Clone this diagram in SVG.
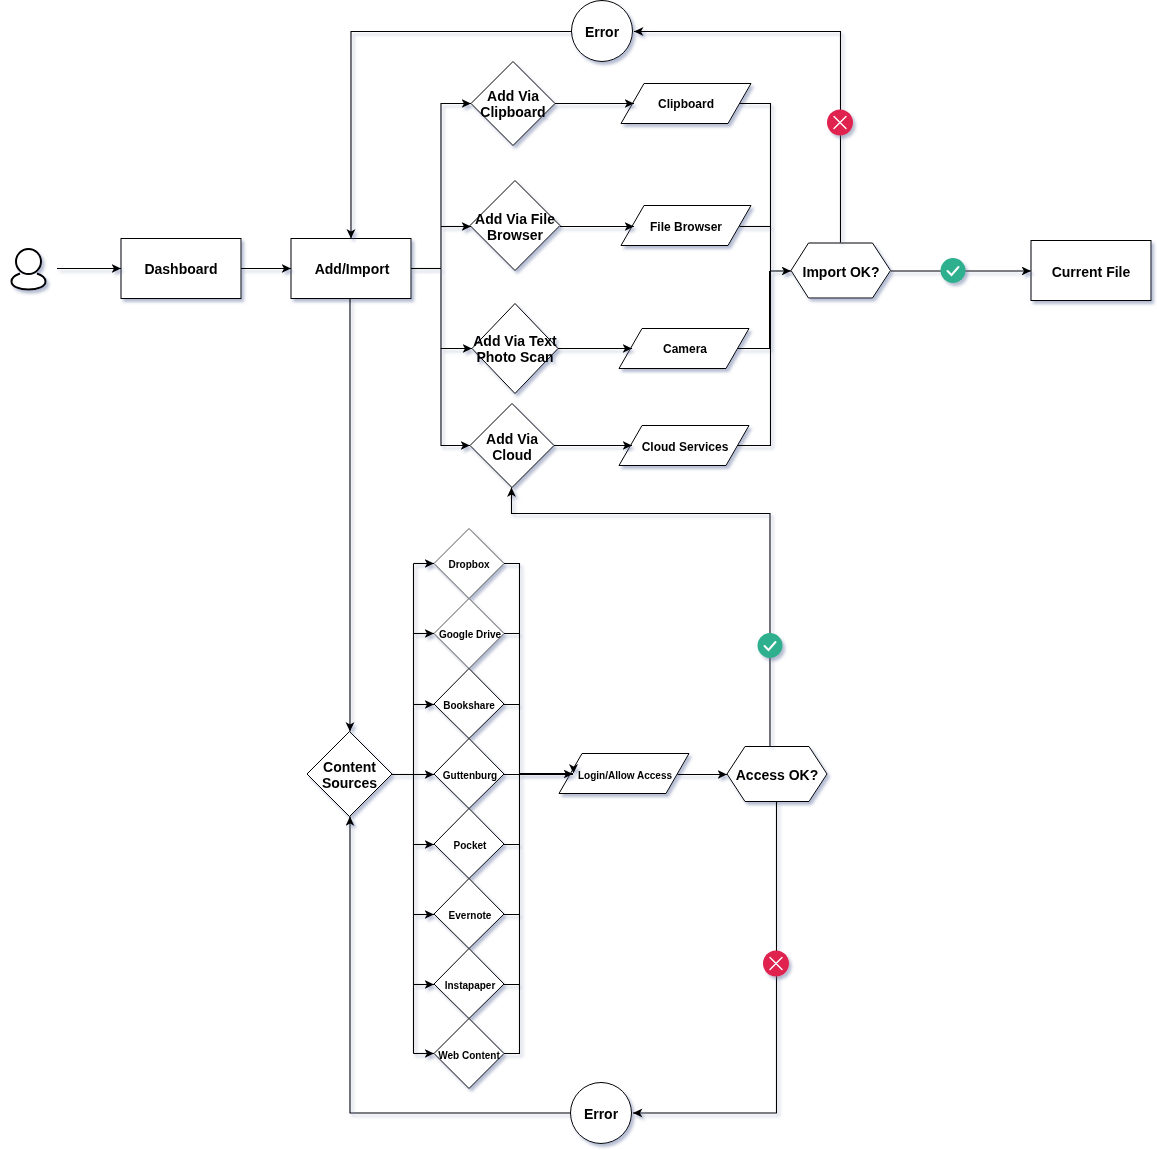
<svg xmlns="http://www.w3.org/2000/svg" width="1157" height="1150" viewBox="0 0 1157 1150">
<style>
text{font-family:"Liberation Sans",Arial,sans-serif;font-weight:bold;fill:#000;text-anchor:middle;dominant-baseline:central}
.n{fill:#fff;stroke:#000;stroke-width:1}
.g{fill:#fff;stroke:#555;stroke-width:1}
.t14{font-size:14px}.t12{font-size:12px}.t10{font-size:10px}
.c{fill:none;stroke:#000;stroke-width:1.1}
.b{fill:none;stroke:#000;stroke-width:2}
.m{stroke:#fff;stroke-width:2;fill:none;stroke-linecap:round}
.ms{stroke:#fff;stroke-width:1.4;fill:none;stroke-linecap:round}
</style>
<defs>
<filter id="s" x="-20%" y="-20%" width="150%" height="150%">
<feDropShadow dx="2.5" dy="3" stdDeviation="1.5" flood-color="#5a6a9a" flood-opacity="0.45"/>
</filter>
<marker id="a" markerUnits="userSpaceOnUse" markerWidth="11" markerHeight="10" refX="9.500" refY="4.500" orient="auto">
<path d="M0,0 L9.500,4.500 L0,9 L2.500,4.500 Z" fill="#000"/>
</marker>
</defs>
<g transform="translate(0,-0.5)">
<g id="user" filter="url(#s)" fill="#fff" stroke="#000" stroke-width="2">
<path d="M20,274 C14,276 11.500,279 11.500,282 C11.500,287 19,290 28.500,290 C38,290 45.500,287 45.500,282 C45.500,279 43,276 37,274"/>
<circle cx="28.500" cy="262" r="12.500"/>
</g>
<g id="dashboard" filter="url(#s)"><rect class="n" x="121" y="239" width="120" height="60"/><text class="t14" x="181" y="269.500">Dashboard</text></g>
<g id="add-import" filter="url(#s)"><rect class="n" x="291" y="239" width="120" height="60"/><text class="t14" x="352" y="269.500">Add/Import</text></g>
<g id="error-top" filter="url(#s)"><circle class="n" cx="602" cy="31.500" r="30.500"/><text class="t14" x="602" y="32.500">Error</text></g>
<g id="add-clipboard" filter="url(#s)"><path class="n" d="M513,62 L555,104 L513,146 L471,104 Z"/><text class="t14" x="513" y="96.500">Add Via</text><text class="t14" x="513" y="112.500">Clipboard</text></g>
<g id="add-file" filter="url(#s)"><path class="n" d="M515,181 L560,226 L515,271 L470,226 Z"/><text class="t14" x="515" y="219.500">Add Via File</text><text class="t14" x="515" y="235.500">Browser</text></g>
<g id="add-text" filter="url(#s)"><path class="n" d="M515,304 L558,349 L515,394 L472,349 Z"/><text class="t14" x="515" y="341.500">Add Via Text</text><text class="t14" x="515" y="357.500">Photo Scan</text></g>
<g id="add-cloud" filter="url(#s)"><path class="n" d="M512,404 L554,446 L512,488 L470,446 Z"/><text class="t14" x="512" y="439.500">Add Via</text><text class="t14" x="512" y="455.500">Cloud</text></g>
<g id="clipboard" filter="url(#s)"><path class="n" d="M644,84 H751 L728,124 H621 Z"/><text class="t12" x="686" y="104.500">Clipboard</text></g>
<g id="file-browser" filter="url(#s)"><path class="n" d="M644,206 H751 L728,246 H621 Z"/><text class="t12" x="686" y="227.500">File Browser</text></g>
<g id="camera" filter="url(#s)"><path class="n" d="M642,329 H749 L726,369 H619 Z"/><text class="t12" x="685" y="349.500">Camera</text></g>
<g id="cloud-services" filter="url(#s)"><path class="n" d="M642,426 H749 L726,466 H619 Z"/><text class="t12" x="685" y="447.500">Cloud Services</text></g>
<g id="import-ok" filter="url(#s)"><path class="n" d="M808.500,243.500 H872.500 L890.500,271 L872.500,298.500 H808.500 L791,271 Z"/><text class="t14" x="841" y="272.500">Import OK?</text></g>
<g id="current-file" filter="url(#s)"><rect class="n" x="1031" y="241" width="120" height="60"/><text class="t14" x="1091" y="272.500">Current File</text></g>
<g id="content-sources" filter="url(#s)"><path class="n" d="M349.500,732 L392,774.500 L349.500,817 L307,774.500 Z"/><text class="t14" x="349.500" y="767.500">Content</text><text class="t14" x="349.500" y="783.500">Sources</text></g>
<g id="dropbox" filter="url(#s)"><path class="g" d="M469,529 L504,564 L469,599 L434,564 Z"/><text class="t10" x="469" y="564.500">Dropbox</text></g>
<g id="google-drive" filter="url(#s)"><path class="g" d="M469,599 L504,634 L469,669 L434,634 Z"/><text class="t10" x="470" y="634.500">Google Drive</text></g>
<g id="bookshare" filter="url(#s)"><path class="n" d="M469,669 L504,704.500 L469,739 L434,704.500 Z"/><text class="t10" x="469" y="705.500">Bookshare</text></g>
<g id="guttenburg" filter="url(#s)"><path class="n" d="M469,739 L504,774.500 L469,809 L434,774.500 Z"/><text class="t10" x="470" y="775.500">Guttenburg</text></g>
<g id="pocket" filter="url(#s)"><path class="n" d="M469,809 L504,844.500 L469,879 L434,844.500 Z"/><text class="t10" x="470" y="845.500">Pocket</text></g>
<g id="evernote" filter="url(#s)"><path class="n" d="M469,879 L504,914.500 L469,949 L434,914.500 Z"/><text class="t10" x="470" y="915.500">Evernote</text></g>
<g id="instapaper" filter="url(#s)"><path class="n" d="M469,949 L504,984.500 L469,1019 L434,984.500 Z"/><text class="t10" x="470" y="985.500">Instapaper</text></g>
<g id="web-content" filter="url(#s)"><path class="n" d="M469,1019 L504,1054 L469,1089 L434,1054 Z"/><text class="t10" x="469" y="1055.500">Web Content</text></g>
<g id="login" filter="url(#s)"><path class="n" d="M582,754 H689 L666,794 H559 Z"/><text class="t10" x="625" y="775.500">Login/Allow Access</text></g>
<g id="access-ok" filter="url(#s)"><path class="n" d="M745,747 H809 L827,774.500 L809,802 H745 L727,774.500 Z"/><text class="t14" x="777" y="775.500">Access OK?</text></g>
<g id="error-bottom" filter="url(#s)"><circle class="n" cx="601" cy="1113.500" r="30.500"/><text class="t14" x="601" y="1114.500">Error</text></g>
<g id="connectors" filter="url(#s)">
<path class="c" marker-end="url(#a)" d="M57,269 H121"/>
<path class="c" marker-end="url(#a)" d="M241,269 H291"/>
<path class="c" d="M411,269 H441"/>
<path class="c" marker-end="url(#a)" d="M441,269 V104 H471"/>
<path class="c" marker-end="url(#a)" d="M441,227 H471"/>
<path class="c" marker-end="url(#a)" d="M441,269 V349 H472"/>
<path class="c" marker-end="url(#a)" d="M441,349 V446 H470"/>
<path class="c" marker-end="url(#a)" d="M555,104 H634"/>
<path class="c" marker-end="url(#a)" d="M560,227 H634"/>
<path class="c" marker-end="url(#a)" d="M558,349 H632"/>
<path class="c" marker-end="url(#a)" d="M554,446 H632"/>
<path class="c" d="M739.500,104 H770.500 V446 H737.500"/>
<path class="c" d="M739.500,227 H770.500"/>
<path class="c" d="M737.500,349 H770"/>
<path class="b" d="M770,349 V271.500"/>
<path class="c" marker-end="url(#a)" d="M770,271.500 H791"/>
<path class="c" marker-end="url(#a)" d="M840.500,243 V32 H634"/>
<path class="c" marker-end="url(#a)" d="M571,32 H351 V239"/>
<path class="c" marker-end="url(#a)" d="M891,271.500 H1031"/>
<path class="c" marker-end="url(#a)" d="M350,299 V732"/>
<path class="c" d="M392,775 H413.500"/>
<path class="c" marker-end="url(#a)" d="M413.500,775 H434"/>
<path class="c" d="M413.500,564 V1054"/>
<path class="c" marker-end="url(#a)" d="M413.500,564 H434"/>
<path class="c" marker-end="url(#a)" d="M413.500,634 H434"/>
<path class="c" marker-end="url(#a)" d="M413.500,705 H434"/>
<path class="c" marker-end="url(#a)" d="M413.500,845 H434"/>
<path class="c" marker-end="url(#a)" d="M413.500,915 H434"/>
<path class="c" marker-end="url(#a)" d="M413.500,985 H434"/>
<path class="c" marker-end="url(#a)" d="M413.500,1054 H434"/>
<path class="c" d="M504,564 H519.500 V1054 H504"/>
<path class="c" d="M504,634 H519.500 M504,705 H519.500 M504,775 H519.500 M504,845 H519.500 M504,915 H519.500 M504,985 H519.500"/>
<path class="b" marker-end="url(#a)" d="M519.500,774.500 H573"/>
<path marker-end="url(#a)" fill="none" d="M573.500,764 V774"/>
<path class="c" marker-end="url(#a)" d="M677.500,775 H727"/>
<path class="c" marker-end="url(#a)" d="M770,747 V514 H511.500 V488"/>
<path class="c" marker-end="url(#a)" d="M776.500,802 V1113.500 H633"/>
<path class="c" marker-end="url(#a)" d="M570,1113.500 H350 V817"/>
</g>
<g id="fail-import" filter="url(#s)"><circle cx="840" cy="123" r="13" fill="#e0204f"/><path class="ms" d="M834,117 L846,129 M846,117 L834,129"/></g>
<g id="ok-import" filter="url(#s)"><circle cx="953" cy="271" r="12.500" fill="#2fb08f"/><path class="m" d="M947.500,271.500 L951.500,275.500 L958.500,267.500"/></g>
<g id="ok-access" filter="url(#s)"><circle cx="770" cy="646" r="12.500" fill="#2fb08f"/><path class="m" d="M764.500,646.500 L768.500,650.500 L775.500,642.500"/></g>
<g id="fail-access" filter="url(#s)"><circle cx="776" cy="964" r="13" fill="#e0204f"/><path class="ms" d="M770,958 L782,970 M782,958 L770,970"/></g>
</g>
</svg>
